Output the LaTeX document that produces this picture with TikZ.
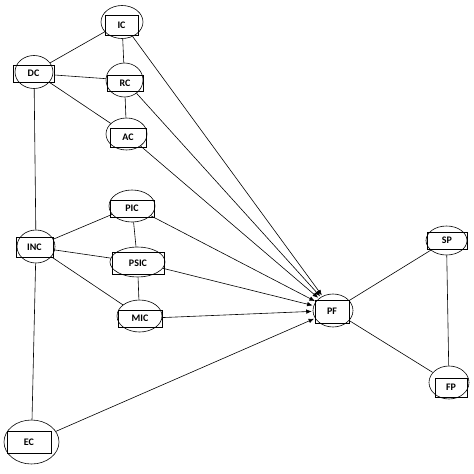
\documentclass[tikz,border=0pt]{standalone}
\usepackage{fontspec}
\setmainfont{Carlito}
\usetikzlibrary{shapes.geometric,arrows.meta}
\begin{document}
\begin{tikzpicture}[x=1pt,y=-1pt,
  ell/.style={draw,ellipse,inner sep=0pt,line width=0.6pt},
  box/.style={draw,rectangle,inner sep=0pt,line width=0.6pt,font=\bfseries\fontsize{10}{10}\selectfont},
  lnk/.style={line width=0.6pt},
  arr/.style={line width=0.6pt,-{Latex[length=5.5pt,width=4.5pt]},shorten >=1pt}]
\useasboundingbox (0,0) rectangle (474,474);
\fill[white] (0,0) rectangle (474,474);
% ellipses
\node[ell,minimum width=42pt,minimum height=33pt] (IC) at (122,22) {};
\node[ell,minimum width=38pt,minimum height=33pt] (DC) at (34,72) {};
\node[ell,minimum width=37pt,minimum height=34pt] (RC) at (124.5,80) {};
\node[ell,minimum width=41pt,minimum height=32pt] (AC) at (126.5,134) {};
\node[ell,minimum width=46pt,minimum height=32pt] (PIC) at (132,206) {};
\node[ell,minimum width=38pt,minimum height=33pt] (INC) at (36,246.5) {};
\node[ell,minimum width=55pt,minimum height=30pt] (PSIC) at (137.5,262) {};
\node[ell,minimum width=45pt,minimum height=32pt] (MIC) at (139.5,316) {};
\node[ell,minimum width=55pt,minimum height=44pt] (EC) at (31.5,442) {};
\node[ell,minimum width=40pt,minimum height=33pt] (PF) at (333,310.5) {};
\node[ell,minimum width=41pt,minimum height=29pt] (SP) at (446.5,240.5) {};
\node[ell,minimum width=40pt,minimum height=33pt] (FP) at (449,382.5) {};
% boxes
\node[box,minimum width=33pt,minimum height=20pt] (ICr) at (121.5,25) {IC};
\node[box,minimum width=41pt,minimum height=17pt] (DCr) at (33.5,73.5) {DC};
\node[box,minimum width=36pt,minimum height=16pt] (RCr) at (125,83) {RC};
\node[box,minimum width=36pt,minimum height=19pt] (ACr) at (128,137.5) {AC};
\node[box,minimum width=44pt,minimum height=17pt] (PICr) at (132,208.5) {PIC};
\node[box,minimum width=37pt,minimum height=20pt] (INCr) at (34.5,247) {INC};
\node[box,minimum width=52pt,minimum height=22pt] (PSICr) at (138,263) {PSIC};
\node[box,minimum width=44pt,minimum height=17pt] (MICr) at (140,318.5) {MIC};
\node[box,minimum width=44pt,minimum height=22pt] (ECr) at (29,442) {EC};
\node[box,minimum width=34pt,minimum height=23pt] (PFr) at (332,311.5) {PF};
\node[box,minimum width=40pt,minimum height=17pt] (SPr) at (447,240.5) {SP};
\node[box,minimum width=32pt,minimum height=19pt] (FPr) at (451,387.5) {FP};
% plain links
\draw[lnk] (IC) -- (DC);
\draw[lnk] (IC) -- (RC);
\draw[lnk] (DCr) -- (RC);
\draw[lnk] (DC) -- (AC);
\draw[lnk] (RC) -- (AC);
\draw[lnk] (DC) -- (INC);
\draw[lnk] (INC) -- (PIC);
\draw[lnk] (INCr) -- (PSIC);
\draw[lnk] (INC) -- (MIC);
\draw[lnk] (PIC) -- (PSIC);
\draw[lnk] (PSIC) -- (MIC);
\draw[lnk] (INC) -- (EC);
\draw[lnk] (PF) -- (SP);
\draw[lnk] (PF) -- (FP);
\draw[lnk] (SP) -- (FP);
% arrows
\draw[arr] (IC) -- (PF);
\draw[arr] (RC) -- (PF);
\draw[arr] (AC) -- (PF);
\draw[arr] (PIC) -- (PF);
\draw[arr] (PSIC) -- (PF);
\draw[arr] (MICr) -- (PF);
\draw[arr] (EC) -- (PF);
\end{tikzpicture}
\end{document}
